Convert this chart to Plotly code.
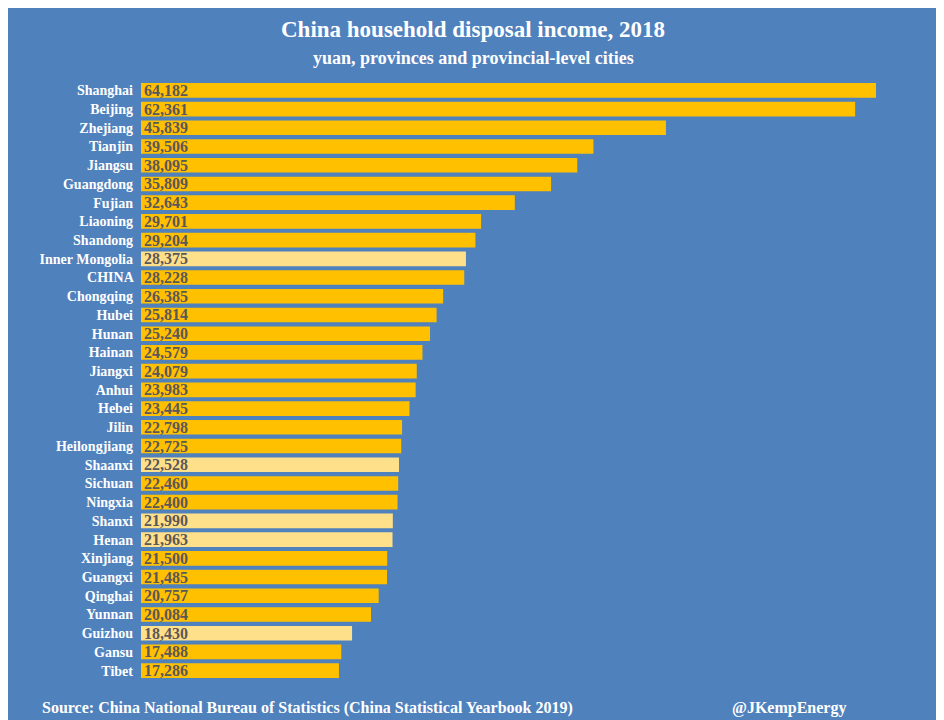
import plotly.graph_objects as go

regions = ["Shanghai", "Beijing", "Zhejiang", "Tianjin", "Jiangsu", "Guangdong", "Fujian",
           "Liaoning", "Shandong", "Inner Mongolia", "CHINA", "Chongqing", "Hubei", "Hunan",
           "Hainan", "Jiangxi", "Anhui", "Hebei", "Jilin", "Heilongjiang", "Shaanxi", "Sichuan",
           "Ningxia", "Shanxi", "Henan", "Xinjiang", "Guangxi", "Qinghai", "Yunnan", "Guizhou",
           "Gansu", "Tibet"]
income = [64182, 62361, 45839, 39506, 38095, 35809, 32643, 29701, 29204, 28375, 28228,
          26385, 25814, 25240, 24579, 24079, 23983, 23445, 22798, 22725, 22528, 22460,
          22400, 21990, 21963, 21500, 21485, 20757, 20084, 18430, 17488, 17286]
highlight = ["Inner Mongolia", "Shaanxi", "Shanxi", "Henan", "Guizhou"]

colors = ["#FFE08A" if r in highlight else "#FFC000" for r in regions]
font = "Liberation Serif"

# plot area in pixels
L, R, T, B = 133, 868, 73, 672
W, H = R - L, B - T


def px_x(x):
    return (x - L) / W


def px_y(y):
    return (B - y) / H


fig = go.Figure(go.Bar(
    x=income, y=regions, orientation="h", marker=dict(color=colors, line_width=0),
    width=0.78, text=[f"<b>{v:,}</b>" for v in income], textposition="inside",
    insidetextanchor="start", constraintext="none",
    textfont=dict(family=font, size=16, color="#595959"),
))

fig.update_layout(
    width=944, height=720, paper_bgcolor="#4F81BD", plot_bgcolor="#4F81BD",
    margin=dict(l=L, r=944 - R, t=T, b=720 - B), showlegend=False,
    font=dict(family=font, color="white"),
    xaxis=dict(visible=False, range=[0, 64182]),
    yaxis=dict(autorange="reversed", showgrid=False, ticks="", ticksuffix="  ",
               tickfont=dict(family=font, size=14, color="white", weight="bold")),
)

notes = [
    ("<b>China household disposal income, 2018</b>", 465, 22, 23, "center"),
    ("<b>yuan, provinces and provincial-level cities</b>", 465, 50, 18, "center"),
    ("<b>Source: China National Bureau of Statistics (China Statistical Yearbook 2019)</b>", 32, 700, 16, "left"),
    ("<b>@JKempEnergy</b>", 722, 700, 16, "left"),
]
for text, x, y, size, anchor in notes:
    fig.add_annotation(text=text, xref="paper", yref="paper", x=px_x(x), y=px_y(y),
                       xanchor=anchor, yanchor="middle", showarrow=False, font=dict(size=size))

fig.write_html("out.html")
